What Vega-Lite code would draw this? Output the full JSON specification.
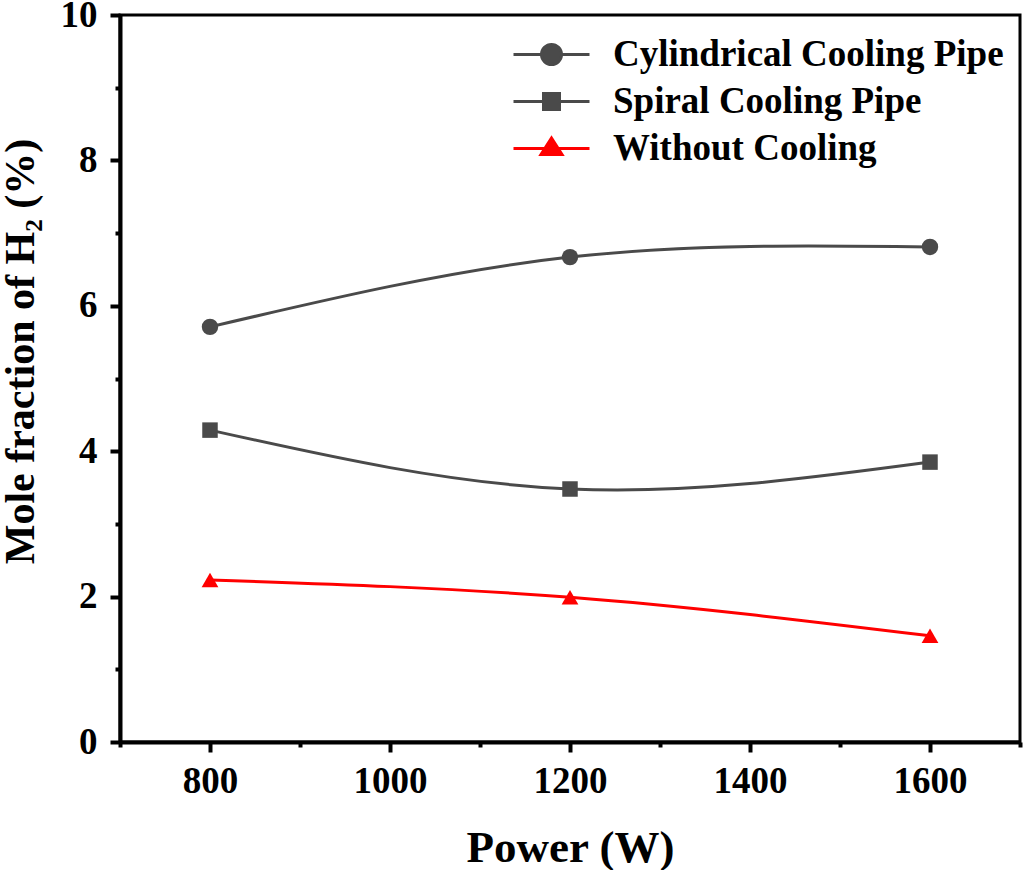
{
  "$schema": "https://vega.github.io/schema/vega-lite/v6.json",
  "width": 900,
  "height": 727,
  "autosize": "none",
  "padding": {"left": 120, "top": 15, "right": 5, "bottom": 128},
  "background": "white",
  "config": {
    "font": "Liberation Serif",
    "view": {"stroke": "black", "strokeWidth": 3},
    "axis": {
      "domainColor": "black",
      "domainWidth": 4,
      "tickColor": "black",
      "tickWidth": 4,
      "grid": false,
      "labelFont": "Liberation Serif",
      "labelFontWeight": "bold",
      "labelFontSize": 37,
      "labelColor": "black",
      "titleFont": "Liberation Serif",
      "titleFontWeight": "bold",
      "titleColor": "black"
    }
  },
  "data": {
    "values": [
      {"power": 800, "h2": 5.71, "series": "Cylindrical Cooling Pipe"},
      {"power": 1200, "h2": 6.67, "series": "Cylindrical Cooling Pipe"},
      {"power": 1600, "h2": 6.81, "series": "Cylindrical Cooling Pipe"},
      {"power": 800, "h2": 4.29, "series": "Spiral Cooling Pipe"},
      {"power": 1200, "h2": 3.48, "series": "Spiral Cooling Pipe"},
      {"power": 1600, "h2": 3.85, "series": "Spiral Cooling Pipe"},
      {"power": 800, "h2": 2.23, "series": "Without Cooling"},
      {"power": 1200, "h2": 1.99, "series": "Without Cooling"},
      {"power": 1600, "h2": 1.46, "series": "Without Cooling"}
    ]
  },
  "encoding": {
    "x": {
      "field": "power",
      "type": "quantitative",
      "scale": {"domain": [700, 1700], "nice": false, "zero": false},
      "axis": {
        "title": "Power (W)",
        "titleFontSize": 45,
        "titlePadding": 26,
        "values": [700, 800, 900, 1000, 1100, 1200, 1300, 1400, 1500, 1600, 1700],
        "labelExpr": "datum.value % 200 == 0 && datum.value >= 800 && datum.value <= 1600 ? datum.label : ''",
        "format": "d",
        "tickSize": {"condition": {"test": "datum.value % 200 == 0", "value": 10}, "value": 5},
        "labelPadding": 11,
        "labelFlush": false
      }
    },
    "y": {
      "field": "h2",
      "type": "quantitative",
      "scale": {"domain": [0, 10], "nice": false},
      "axis": {
        "title": "Mole fraction of H₂ (%)",
        "titleFontSize": 42,
        "titlePadding": 18,
        "titleY": 336,
        "values": [0, 1, 2, 3, 4, 5, 6, 7, 8, 9, 10],
        "labelExpr": "datum.value % 2 == 0 ? datum.label : ''",
        "tickSize": {"condition": {"test": "datum.value % 2 == 0", "value": 10}, "value": 5},
        "labelPadding": 13,
        "labelFlush": false
      }
    }
  },
  "layer": [
    {
      "mark": {"type": "line", "interpolate": "natural", "strokeWidth": 3},
      "encoding": {
        "color": {
          "field": "series",
          "type": "nominal",
          "scale": {
            "domain": ["Cylindrical Cooling Pipe", "Spiral Cooling Pipe", "Without Cooling"],
            "range": ["#4a4a4a", "#4a4a4a", "#ff0000"]
          },
          "legend": {
            "title": null,
            "orient": "none",
            "legendX": 413,
            "legendY": 21,
            "symbolSize": 400,
            "symbolStrokeWidth": 3,
            "labelFont": "Liberation Serif",
            "labelFontWeight": "bold",
            "labelFontSize": 37,
            "labelColor": "black",
            "labelOffset": 43,
            "rowPadding": 9,
            "labelLimit": 600,
            "encode": {
              "symbols": {
                "update": {
                  "shape": {"signal": "datum.value === 'Cylindrical Cooling Pipe' ? 'M-3.8,0H3.8M1,0A1,1 0 1,1 -1,0A1,1 0 1,1 1,0Z' : datum.value === 'Spiral Cooling Pipe' ? 'M-3.8,0H3.8M-0.8,-0.8H0.8V0.8H-0.8Z' : 'M-3.8,0H3.8M0,-1.05L1.05,0.6H-1.05Z'"},
                  "fill": {"signal": "scale('color', datum.value)"},
                  "stroke": {"signal": "scale('color', datum.value)"},
                  "strokeWidth": {"value": 3},
                  "opacity": {"value": 1}
                }
              }
            }
          }
        }
      }
    },
    {
      "transform": [{"filter": "datum.series === 'Cylindrical Cooling Pipe'"}],
      "mark": {"type": "point", "shape": "circle", "filled": true, "opacity": 1, "size": 270, "color": "#4a4a4a"}
    },
    {
      "transform": [{"filter": "datum.series === 'Spiral Cooling Pipe'"}],
      "mark": {"type": "point", "shape": "square", "filled": true, "opacity": 1, "size": 240, "color": "#4a4a4a"}
    },
    {
      "transform": [{"filter": "datum.series === 'Without Cooling'"}],
      "mark": {"type": "point", "shape": "triangle-up", "filled": true, "opacity": 1, "size": 280, "color": "#ff0000"}
    }
  ]
}
